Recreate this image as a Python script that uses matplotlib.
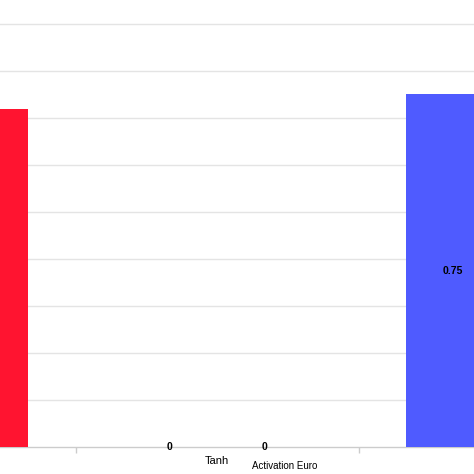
import matplotlib
matplotlib.use("Agg")
import matplotlib.pyplot as plt
import matplotlib.transforms as mtransforms
import numpy as np

plt.rcParams['font.family'] = ['Liberation Sans', 'DejaVu Sans']

categories = ["", "Tanh", ""]
series_left = [0.0, 0.0, 0.75]
series_right = [0.72, 0.0, 0.0]
colors_left = ["#4F5BFF", "#4F5BFF", "#4F5BFF"]
colors_right = ["#FF1430", "#FF1430", "#FF1430"]
axis_title = "Activation Euro"

fig = plt.figure(figsize=(4.74, 4.74), dpi=100)
ax = fig.add_axes([0, 27/474, 1, 447/474])

x = np.arange(len(categories))
w = 1/3
bl = ax.bar(x - w/2, series_left, width=w, color=colors_left, zorder=3)
br = ax.bar(x + w/2, series_right, width=w, color=colors_right, zorder=3)

xmin, xmax = 1 - 217/283, 1 + 257/283

for bars, vals in ((bl, series_left), (br, series_right)):
    for b, v in zip(bars, vals):
        cx = b.get_x() + b.get_width()/2
        if xmin + 0.05 < cx < xmax - 0.05:
            ax.text(cx, v/2, f"{v:g}", ha="center", va="center",
                    fontsize=7.5, fontweight="bold", color="black", zorder=5)

ax.set_yticks(np.arange(0.1, 0.95, 0.1))
ax.yaxis.grid(True, color="#e4e4e4", linewidth=1)
ax.set_axisbelow(True)
ax.tick_params(axis="y", left=False, labelleft=False)

ax.set_xticks(np.arange(-0.5, len(categories), 1))
ax.set_xticklabels([])
ax.tick_params(axis="x", which="major", length=4, color="#cccccc", width=1)
ax.set_xticks(x, minor=True)
ax.set_xticklabels(categories, minor=True, fontsize=8)
ax.tick_params(axis="x", which="minor", length=0, pad=6.5)

ax.set_xlim(xmin, xmax)
ax.set_ylim(0, 447/470)

for s in ("left", "right", "top"):
    ax.spines[s].set_visible(False)
ax.spines["bottom"].set_color("#cccccc")
ax.spines["bottom"].set_linewidth(1)

trans = mtransforms.blended_transform_factory(ax.transData, ax.transAxes)
ax.text(1 + 68/283, -18.7/447, axis_title, transform=trans, ha="center", va="center",
        fontsize=7, clip_on=False)

fig.savefig("out.png", dpi=100)
